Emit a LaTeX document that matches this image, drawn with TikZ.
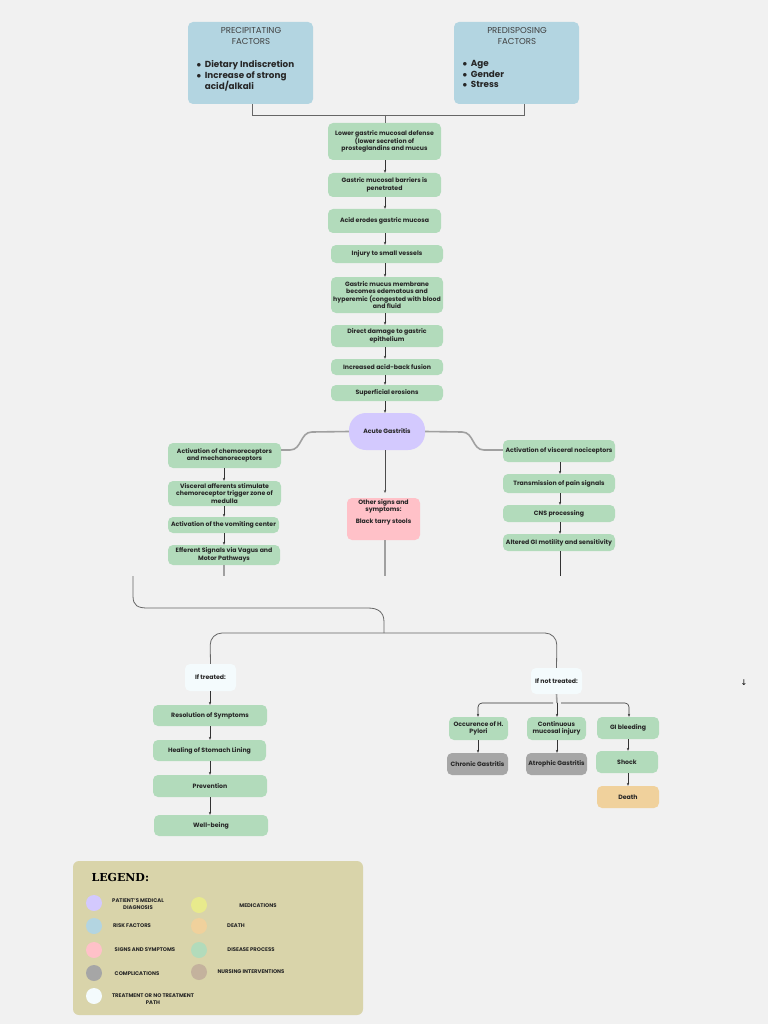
\documentclass[tikz,border=0pt]{standalone}
\usepackage{fontspec}
\setmainfont{Poppins}
\newfontfamily\symf{DejaVu Sans}
\newfontfamily\titf{DejaVu Serif}
\usetikzlibrary{arrows.meta}
\definecolor{bg}{HTML}{F1F1F1}
\definecolor{cblue}{HTML}{B3D5E1}
\definecolor{cgreen}{HTML}{B2DBBB}
\definecolor{cpurple}{HTML}{D3C9FE}
\definecolor{cpink}{HTML}{FFC1C8}
\definecolor{cgray}{HTML}{A6A6A6}
\definecolor{cdeath}{HTML}{F0D19C}
\definecolor{cwhite}{HTML}{F4FBFD}
\definecolor{cyellow}{HTML}{E8EA8C}
\definecolor{cbrown}{HTML}{C4B29D}
\definecolor{clegend}{HTML}{D9D4AA}
\definecolor{lgray}{HTML}{A0A0A0}
\tikzset{
  x=1pt,y=-1pt,
  box/.style={rounded corners=5pt,inner sep=1pt,align=center,font=\fontsize{6.2}{7.4}\selectfont\bfseries,text=black!85},
  gbox/.style={box,fill=cgreen},
  gl/.style={draw=lgray,line width=1.6pt},
  dl/.style={draw=black!60,line width=0.8pt},
  arr/.style={draw=black!80,line width=0.6pt,-{Stealth[length=3pt,width=2.4pt]}},
  lgc/.style={circle,minimum size=16pt,inner sep=0pt},
  lgt/.style={font=\fontsize{5.3}{6.4}\selectfont\bfseries,align=center,text=black!85},
}
\begin{document}
\begin{tikzpicture}
\fill[bg] (0,0) rectangle (768,1024);
\useasboundingbox (0,0) rectangle (768,1024);
% risk factors
\node[box,fill=cblue,minimum width=125pt,minimum height=82pt] (prec) at (250.5,63) {};
\node[font=\fontsize{8.6}{10.4}\selectfont,align=center,text=black!75] (prect) at (251,36) {PRECIPITATING\\FACTORS};
\node[font=\fontsize{8.8}{10.6}\selectfont\bfseries,align=left,anchor=north west,text=black!85] (precb) at (193,57) {$\bullet$\ \ Dietary Indiscretion\\$\bullet$\ \ Increase of strong\\\phantom{$\bullet$\ \ }acid/alkali};
\node[box,fill=cblue,minimum width=125pt,minimum height=82pt] (pred) at (516.5,63) {};
\node[font=\fontsize{8.6}{10.4}\selectfont,align=center,text=black!75] (predt) at (517,36) {PREDISPOSING\\FACTORS};
\node[font=\fontsize{8.8}{10.6}\selectfont\bfseries,align=left,anchor=north west,text=black!85] (predb) at (459,57) {$\bullet$\ \ Age\\$\bullet$\ \ Gender\\$\bullet$\ \ Stress};
% main chain
\node[gbox,minimum width=113pt,minimum height=37pt] (g1) at (384.5,141.5) {Lower gastric mucosal defense\\(lower secretion of\\prosteglandins and mucus};
\node[gbox,minimum width=113pt,minimum height=24pt] (g2) at (384.5,185) {Gastric mucosal barriers is\\penetrated};
\node[gbox,minimum width=113pt,minimum height=24pt] (g3) at (384.5,221) {Acid erodes gastric mucosa};
\node[gbox,minimum width=112pt,minimum height=18pt] (g4) at (387,254) {Injury to small vessels};
\node[gbox,minimum width=112pt,minimum height=36pt] (g5) at (387,295) {Gastric mucus membrane\\becomes edematous and\\hyperemic (congested with blood\\and fluid};
\node[gbox,minimum width=112pt,minimum height=22pt] (g6) at (387,336) {Direct damage to gastric\\epithelium};
\node[gbox,minimum width=112pt,minimum height=16pt] (g7) at (387,367) {Increased acid-back fusion};
\node[gbox,minimum width=112pt,minimum height=16pt] (g8) at (387,393) {Superficial erosions};
\node[box,fill=cpurple,rounded corners=17pt,minimum width=76pt,minimum height=37pt] (ac) at (387,431.5) {Acute Gastritis};
\draw[dl] (prec.south -| 252,0) -- (252,115) -- (524,115) -- (524,104);
\draw[dl] (385,115) -- (385,123);
\foreach \a/\b in {g1/g2,g2/g3,g3/g4,g4/g5,g5/g6,g6/g7,g7/g8,g8/ac}
  \draw[arr] (\a.south -| 385,0) -- (\b.north -| 385,0);
% left chain
\node[gbox,minimum width=113pt,minimum height=25pt] (la) at (224.5,455.5) {Activation of chemoreceptors\\and mechanoreceptors};
\node[gbox,minimum width=113pt,minimum height=25pt] (lb) at (224.5,493.5) {Visceral afferents stimulate\\chemoreceptor trigger zone of\\medulla};
\node[gbox,minimum width=111pt,minimum height=16pt] (lc) at (223.5,525) {Activation of the vomiting center};
\node[gbox,minimum width=112pt,minimum height=20pt] (ld) at (224,555) {Efferent Signals via Vagus and\\Motor Pathways};
\foreach \a/\b in {la/lb,lb/lc,lc/ld}
  \draw[arr] (\a.south -| 224,0) -- (\b.north -| 224,0);
\draw[gl] (ld.south -| 224,0) -- (224,576);
\draw[gl] (ac.west) -- (312,432) .. controls (300,432) and (302,450) .. (290,450) -- (la.east |- 0,450);
% center
\node[box,fill=cpink,minimum width=73pt,minimum height=42pt] (pk) at (383.5,519) {Other signs and\\symptoms:\\[4pt]Black tarry stools\\[8pt]};
\draw[arr,draw=black!70] (ac.south -| 385,0) -- (385,493);
\draw[gl] (pk.south -| 385,0) -- (385,576);
% right chain
\node[gbox,minimum width=112pt,minimum height=22pt] (ra) at (559,451) {Activation of visceral nociceptors};
\node[gbox,minimum width=112pt,minimum height=19pt] (rb) at (559,483.5) {Transmission of pain signals};
\node[gbox,minimum width=112pt,minimum height=17pt] (rc) at (559,513.5) {CNS processing};
\node[gbox,minimum width=112pt,minimum height=17pt] (rd) at (559,542.5) {Altered GI motility and sensitivity};
\foreach \a/\b in {ra/rb,rb/rc,rc/rd}
  \draw[arr] (\a.south -| 560,0) -- (\b.north -| 560,0);
\draw[dl,draw=black!80] (rd.south -| 560,0) -- (560,576);
\draw[gl] (ac.east) -- (462,432) .. controls (474,432) and (472,450) .. (484,450) -- (ra.west |- 0,450);
% bottom connector
\draw[dl] (133,576) -- (133,596) .. controls (133,606) and (138,608) .. (148,608) -- (368,608) .. controls (378,608) and (384,612) .. (384,622) -- (384,633);
\node[box,fill=cwhite,minimum width=51pt,minimum height=27pt] (tr) at (210.5,677.5) {If treated:};
\node[box,fill=cwhite,minimum width=51pt,minimum height=26pt] (nt) at (556.5,681) {If not treated:};
\draw[dl,rounded corners=12pt] (tr.north) -- (210,633) -- (557,633) -- (nt.north);
% treated chain
\node[gbox,minimum width=114pt,minimum height=21pt] (t1) at (210,715.5) {Resolution of Symptoms};
\node[gbox,minimum width=113pt,minimum height=21pt] (t2) at (209.5,750.5) {Healing of Stomach Lining};
\node[gbox,minimum width=114pt,minimum height=22pt] (t3) at (210,786) {Prevention};
\node[gbox,minimum width=114pt,minimum height=21pt] (t4) at (211,825.5) {Well-being};
\draw[arr] (tr.south -| 210,0) -- (t1.north -| 210,0);
\foreach \a/\b in {t1/t2,t2/t3,t3/t4}
  \draw[arr] (\a.south -| 210,0) -- (\b.north -| 210,0);
% not treated
\node[gbox,minimum width=59pt,minimum height=23pt] (n1) at (478.5,728.5) {Occurence of H.\\Pylori};
\node[gbox,minimum width=59pt,minimum height=23pt] (n2) at (556.5,728.5) {Continuous\\mucosal injury};
\node[gbox,minimum width=62pt,minimum height=22pt] (n3) at (628,728) {GI bleeding};
\node[box,fill=cgray,minimum width=61pt,minimum height=22pt] (c1) at (477.5,764) {Chronic Gastritis};
\node[box,fill=cgray,minimum width=61pt,minimum height=22pt] (c2) at (556.5,764) {Atrophic Gastritis};
\node[gbox,minimum width=62pt,minimum height=22pt] (c3) at (627,762) {Shock};
\node[box,fill=cdeath,minimum width=62pt,minimum height=22pt] (d3) at (628,797) {Death};
\draw[gl] (nt.south) -- (557,703);
\draw[arr,rounded corners=4pt] (553,703) -- (478,703) -- (n1.north -| 478,0);
\draw[arr] (557,703) -- (n2.north -| 557,0);
\draw[arr,rounded corners=4pt] (561,703) -- (629,703) -- (n3.north -| 629,0);
\draw[arr] (n1.south -| 478,0) -- (c1.north -| 478,0);
\draw[arr] (n2.south -| 557,0) -- (c2.north -| 557,0);
\draw[arr] (n3.south -| 628,0) -- (c3.north -| 628,0);
\draw[arr] (c3.south -| 628,0) -- (d3.north -| 628,0);
\node[font=\symf\fontsize{8}{9}\selectfont] (sa) at (744,683) {↓};
% legend
\node[fill=clegend,rounded corners=6pt,minimum width=290pt,minimum height=154pt] (lg) at (218,938) {};
\node[font=\titf\fontsize{11}{12}\selectfont\bfseries,anchor=west] (lgtitle) at (88,877) {LEGEND:};
\node[lgc,fill=cpurple] (l1) at (94,903) {};
\node[lgc,fill=cblue] (l2) at (94,926) {};
\node[lgc,fill=cpink] (l3) at (94,950) {};
\node[lgc,fill=cgray] (l4) at (94,973) {};
\node[lgc,fill=cwhite] (l5) at (94,996) {};
\node[lgc,fill=cyellow] (l6) at (199,905) {};
\node[lgc,fill=cdeath] (l7) at (199,926) {};
\node[lgc,fill=cgreen] (l8) at (199,950) {};
\node[lgc,fill=cbrown] (l9) at (199,972) {};
\node[lgt] (t1l) at (138,904) {PATIENT'S MEDICAL\\DIAGNOSIS};
\node[lgt] (t2l) at (132,926) {RISK FACTORS};
\node[lgt] (t3l) at (145,950) {SIGNS AND SYMPTOMS};
\node[lgt] (t4l) at (137,974) {COMPLICATIONS};
\node[lgt] (t5l) at (153,999) {TREATMENT OR NO TREATMENT\\PATH};
\node[lgt] (t6l) at (258,906) {MEDICATIONS};
\node[lgt] (t7l) at (236,926) {DEATH};
\node[lgt] (t8l) at (251,950) {DISEASE PROCESS};
\node[lgt] (t9l) at (251,972) {NURSING INTERVENTIONS};
\end{tikzpicture}
\end{document}
